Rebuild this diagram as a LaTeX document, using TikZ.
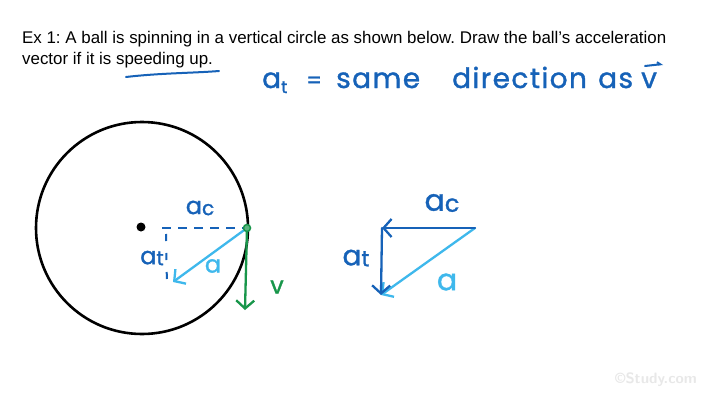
\documentclass[tikz,border=0pt]{standalone}
\usepackage{fontspec}
\setmainfont{Liberation Sans}
\newfontfamily\hand[LetterSpace=5,FakeBold=1.2]{Poppins}
\usetikzlibrary{arrows.meta}
\definecolor{hblue}{RGB}{22,98,184}
\definecolor{lblue}{RGB}{62,184,236}
\definecolor{vgreen}{RGB}{24,150,74}
\frenchspacing
\tikzset{
  qtext/.style={anchor=base west, inner sep=0pt, font=\fontsize{16.9}{20}\selectfont},
  handtxt/.style={anchor=base west, inner sep=0pt, text=hblue, font=\hand\fontsize{28}{28}\selectfont},
  lbl/.style={inner sep=0pt, font=\hand\fontsize{24}{24}\selectfont},
  vec/.style={line width=2.3pt, line cap=round, line join=round,
    -{Straight Barb[length=8pt,width=18pt,line width=2.3pt]}},
}
\begin{document}
\begin{tikzpicture}[x=1pt,y=-1pt]
\useasboundingbox[fill=white] (0,0) rectangle (715,402);
% question
\node[qtext] (q1) at (22,43) {Ex 1: A ball is spinning in a vertical circle as shown below. Draw the ball's acceleration};
\node[qtext] (q2) at (22,64) {vector if it is speeding up.};
\coordinate (u1) at (126,77);
\coordinate (u2) at (219,71);
\draw[hblue, line width=2pt, line cap=round] (u1) .. controls (160,73) and (195,73) .. (u2);
% handwritten note
\node[handtxt] (at) at (262,88) {a\raisebox{-5pt}{\fontsize{17}{17}\selectfont t}};
\node[handtxt, font=\hand\fontsize{22}{22}\selectfont] (eq) at (306,88) {=};
\node[handtxt] (same) at (336,88) {same};
\node[handtxt] (dir) at (452,88) {direction};
\node[handtxt] (as) at (598,88) {as};
\node[handtxt] (vv) at (641,88) {v};
\coordinate (va) at (645,66);
\coordinate (vb) at (663,64);
\draw[hblue, line width=2pt, line cap=round, -{Straight Barb[length=3pt,width=5pt,left]}] (va) -- (vb);
% circle
\draw[line width=2.6pt] (142,228) circle (106);
\node[circle, fill=black, inner sep=0pt, minimum size=9pt] (dot) at (141,227) {};
\coordinate (ball) at (247,228);
\coordinate (dashend) at (162,228);
\coordinate (vt1) at (166,234);
\coordinate (vt2) at (167,287);
\coordinate (atip) at (173,282);
\coordinate (vtip) at (245,310);
\draw[hblue, line width=2pt, dash pattern=on 9pt off 7pt] (dashend) -- (ball);
\draw[hblue, line width=2pt, dash pattern=on 7pt off 12pt] (vt1) -- (vt2);
\draw[vec, vgreen] (ball) -- (vtip);
\draw[vec, lblue] (ball) -- (atip);
\node[circle, draw=vgreen, fill=vgreen!70, line width=1.5pt, inner sep=0pt, minimum size=7pt] (ballnode) at (ball) {};
\node[lbl, text=hblue] (lac) at (200,208) {a\raisebox{-1pt}{\fontsize{20}{20}\selectfont c}};
\node[lbl, text=hblue] (lat) at (152,258) {a\raisebox{-1pt}{\fontsize{20}{20}\selectfont t}};
\node[lbl, text=lblue] (la) at (213,266) {a};
\node[lbl, text=vgreen] (lv) at (277,287) {v};
% triangle
\coordinate (R) at (475,228);
\coordinate (C) at (382,228);
\coordinate (B) at (381,295);
\draw[vec, lblue] (R) -- (B);
\draw[vec, hblue] (R) -- (C);
\draw[vec, hblue] (C) -- (B);
\node[lbl, text=hblue, font=\hand\fontsize{30}{30}\selectfont] (rac) at (442,203) {a\raisebox{-1pt}{\fontsize{24}{24}\selectfont c}};
\node[lbl, text=hblue, font=\hand\fontsize{28}{28}\selectfont] (rat) at (356,258) {a\raisebox{-1pt}{\fontsize{22}{22}\selectfont t}};
\node[lbl, text=lblue, font=\hand\fontsize{30}{30}\selectfont] (ra) at (447,282) {a};
% watermark
\node[inner sep=0pt, text=black!9, font=\sffamily\bfseries\fontsize{15}{15}\selectfont] (wm) at (656,380) {\textcopyright Study.com};
\end{tikzpicture}
\end{document}
